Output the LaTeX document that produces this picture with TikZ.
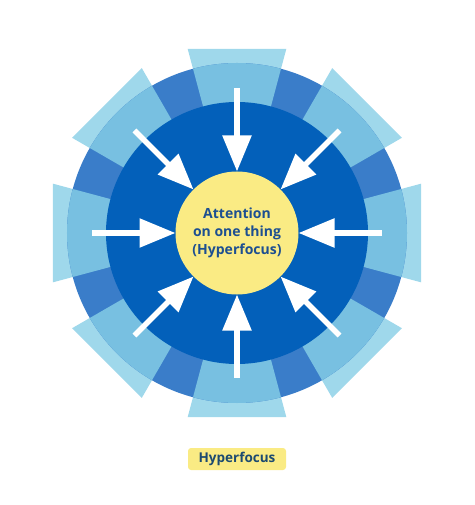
\documentclass[tikz,border=0pt]{standalone}
\usepackage{fontspec}
\setmainfont{Open Sans}
\usetikzlibrary{arrows.meta}
\definecolor{rayouter}{HTML}{9FD8EB}
\definecolor{rayinner}{HTML}{78C0E1}
\definecolor{ringblue}{HTML}{3A7DC9}
\definecolor{coreblue}{HTML}{0360BA}
\definecolor{focusyellow}{HTML}{FAEB84}
\definecolor{textblue}{HTML}{1D4F91}
\definecolor{tagtext}{HTML}{1C4A70}
\tikzset{
  focus/.style={
    circle,
    fill=focusyellow,
    minimum size=123pt,
    inner sep=0pt,
    outer sep=0pt,
    align=center,
    text=textblue,
    font=\fontsize{14pt}{17.8pt}\selectfont\bfseries
  },
  tag/.style={
    rectangle,
    rounded corners=3pt,
    fill=focusyellow,
    minimum width=98pt,
    minimum height=22pt,
    text=tagtext,
    font=\fontsize{13.5pt}{15pt}\selectfont\bfseries
  },
  inarrow/.style={-{Triangle[length=36pt,width=28pt]}, line width=5.5pt, draw=white}
}
\begin{document}
\begin{tikzpicture}[x=1pt,y=1pt]
  \useasboundingbox (-237,-272) rectangle (237,233);
  % light rays behind the ring
  \foreach \a in {0,45,...,315}
    \fill[rayouter] (0,0) -- (\a-15:190.5) -- (\a+15:190.5) -- cycle;
  \fill[ringblue] (0,0) circle[radius=170];
  \foreach \a in {0,45,...,315}
    \fill[rayinner] (0,0) -- (\a-15:170) arc[start angle=\a-15, end angle=\a+15, radius=170] -- cycle;
  \fill[coreblue] (0,0) circle[radius=131];

  \node[focus] (focus) at (0,0) {Attention\\on one thing\\(Hyperfocus)};

  \foreach \a in {0,45,...,315} {
    \coordinate (src\a) at (\a:145);
    \draw[inarrow] (src\a) -- (focus);
  }

  \node[tag] (label) at (0,-226) {Hyperfocus};
\end{tikzpicture}
\end{document}
